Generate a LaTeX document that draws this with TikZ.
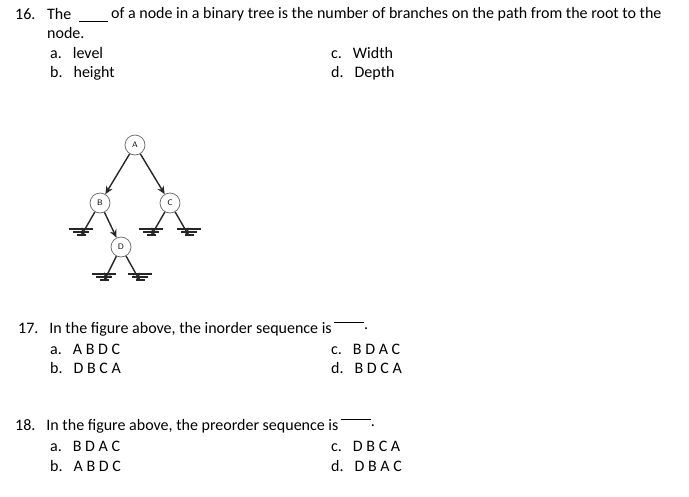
\documentclass[tikz,border=0pt]{standalone}
\usepackage{fontspec}
\setmainfont{Carlito}
\usetikzlibrary{arrows.meta}
\begin{document}
\begin{tikzpicture}[x=1pt,y=-1pt,
  txt/.style={anchor=west,inner sep=0pt,font=\fontsize{16}{18}\selectfont},
  tn/.style={circle,draw=black!60,line width=0.7pt,minimum size=20pt,inner sep=0pt,font=\sffamily\fontsize{8}{9}\selectfont},
  edge/.style={-{Stealth[length=8pt,width=7pt]},line width=1.4pt,black!85},
  gnd/.style={line width=1.1pt,black!85}]
\useasboundingbox (0,0) rectangle (689,496);
\fill[white] (0,0) rectangle (689,496);
% Q16
\node[txt] (q16n) at (15,14) {16.};
\node[txt] (q16a) at (47,14) {The};
\draw (79,21) -- (108,21);
\node[txt] (q16b) at (111,14) {of a node in a binary tree is the number of branches on the path from the root to the};
\node[txt] (q16c) at (47,33) {node.};
\node[txt] at (50,53) {a.\hspace{11pt}level};
\node[txt] at (50,73) {b.\hspace{11pt}height};
\node[txt] at (331,53) {c.\hspace{11pt}Width};
\node[txt] at (331,73) {d.\hspace{11pt}Depth};
% tree
\node[tn] (A) at (135,145) {A};
\node[tn] (B) at (100,203) {B};
\node[tn] (C) at (170,203) {C};
\node[tn] (D) at (121,247) {D};
\coordinate (g1) at (81,236);
\coordinate (g2) at (151,236);
\coordinate (g3) at (189,236);
\coordinate (g4) at (104,281);
\coordinate (g5) at (140,281);
\draw[edge] (A) -- (B);
\draw[edge] (A) -- (C);
\draw[edge] (B) -- (g1);
\draw[edge] (B) -- (D);
\draw[edge] (C) -- (g2);
\draw[edge] (C) -- (g3);
\draw[edge] (D) -- (g4);
\draw[edge] (D) -- (g5);
\foreach \g in {g1,g2,g3,g4,g5}{
  \draw[gnd] ([xshift=-4pt,yshift=1pt]\g) -- ([xshift=5pt,yshift=1pt]\g);
  \draw[gnd] ([xshift=-8pt,yshift=4pt]\g) -- ([xshift=8pt,yshift=4pt]\g);
  \draw[gnd] ([xshift=-12pt,yshift=7pt]\g) -- ([xshift=12pt,yshift=7pt]\g);
}
% Q17
\node[txt] (q17) at (18,329) {17.\hspace{11pt}In the figure above, the inorder sequence is};
\draw ([xshift=2pt,yshift=7pt]q17.east) -- ([xshift=32pt,yshift=7pt]q17.east);
\node[txt] at ([xshift=32pt]q17.east) {.};
\node[txt] at (50,349) {a.\hspace{11pt}A B D C};
\node[txt] at (50,368) {b.\hspace{11pt}D B C A};
\node[txt] at (331,349) {c.\hspace{11pt}B D A C};
\node[txt] at (331,368) {d.\hspace{11pt}B D C A};
% Q18
\node[txt] (q18) at (15,426) {18.\hspace{11pt}In the figure above, the preorder sequence is};
\draw ([xshift=2pt,yshift=7pt]q18.east) -- ([xshift=32pt,yshift=7pt]q18.east);
\node[txt] at ([xshift=32pt]q18.east) {.};
\node[txt] at (50,446) {a.\hspace{11pt}B D A C};
\node[txt] at (50,466) {b.\hspace{11pt}A B D C};
\node[txt] at (331,446) {c.\hspace{11pt}D B C A};
\node[txt] at (331,466) {d.\hspace{11pt}D B A C};
\end{tikzpicture}
\end{document}
